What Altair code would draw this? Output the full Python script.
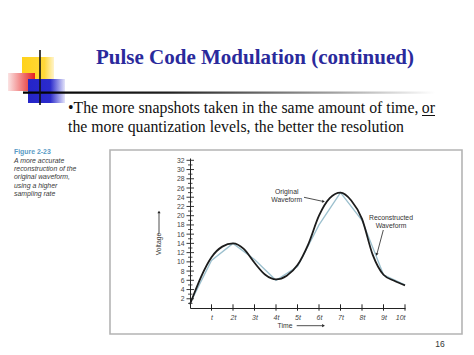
import altair as alt
import pandas as pd

# ---------------- data ----------------
sample_t = [0, 1, 2, 3, 4, 5, 6, 7, 8, 9, 10]
recon_v = [1, 10.3, 14, 10.5, 6, 9, 18, 25, 19, 7.2, 5]

orig_t = [0, 0.25, 0.5, 1, 1.5, 2, 2.5, 3, 3.5, 4, 4.5, 5, 5.5, 6, 6.5, 7, 7.5, 8, 8.5, 9, 9.5, 10]
orig_v = [0.8, 3.8, 6.6, 11, 13.3, 14, 12.8, 9.8, 7.2, 6.2, 7, 9.3, 13.8, 20, 23.8, 25, 23.3, 19.3, 11.5, 7.2, 5.9, 4.9]

y_labels = list(range(2, 33, 2))
y_major = list(range(2, 33, 2))
y_minor = list(range(1, 32, 2))
x_ticks = [1, 2, 3, 4, 5, 6, 7, 8, 9, 10]

title_text = "Pulse Code Modulation (continued)"
bullet_1 = "\u2022The more snapshots taken in the same amount of time,"
bullet_1b = "or"
bullet_2 = "the more quantization levels, the better the resolution"
caption_head = "Figure 2-23"
caption_lines = ["A more accurate", "reconstruction of the", "original waveform,", "using a higher", "sampling rate"]
page_no = "16"

XDOM = [0, 10]
YDOM = [0, 32.5]
xs = alt.Scale(domain=XDOM, nice=False, zero=False)
ys = alt.Scale(domain=YDOM, nice=False, zero=False)

lbl_expr = "datum.value == 1 ? 't' : datum.value + 't'"
x_axis = alt.Axis(values=x_ticks, labelExpr=lbl_expr, ticks=False, tickSize=0,
                  grid=False, title=None, domainColor="#222", domainWidth=1,
                  labelFont="Liberation Sans", labelFontSize=7, labelFontStyle="italic",
                  labelColor="#444", labelPadding=5, zindex=2)
y_axis = alt.Axis(values=y_labels, ticks=False, tickSize=0, grid=False, title=None,
                  domainColor="#222", domainWidth=1,
                  labelFont="Liberation Sans", labelFontSize=6.8, labelColor="#444",
                  labelPadding=6, zindex=2)

one = pd.DataFrame({"k": [0]})

def txt(text, x, y, size, font="Liberation Sans", color="#333", align="center",
        baseline="middle", style="normal", weight="normal", angle=0):
    kw = dict(text=text, font=font, fontSize=size, color=color, align=align,
              baseline=baseline, fontStyle=style, fontWeight=weight)
    if angle:
        kw["angle"] = angle
    return alt.Chart(one).mark_text(**kw).encode(x=alt.value(x), y=alt.value(y))

def rect(x, x2, y, y2, **mk):
    return alt.Chart(one).mark_rect(**mk).encode(
        x=alt.value(x), x2=alt.value(x2), y=alt.value(y), y2=alt.value(y2))

def rule(x, x2, y, y2, color="#222", w=1.0):
    return alt.Chart(one).mark_rule(color=color, strokeWidth=w).encode(
        x=alt.value(x), x2=alt.value(x2), y=alt.value(y), y2=alt.value(y2))

def head(x, y, shape, angle, size=14, color="#222"):
    return alt.Chart(one).mark_point(shape=shape, angle=angle, size=size, filled=True,
                                     color=color, opacity=1).encode(
        x=alt.value(x), y=alt.value(y))

def grad(stops, x1=0, x2=1, y1=0, y2=0):
    return alt.LinearGradient(gradient="linear",
                              stops=[alt.GradientStop(color=c, offset=o) for o, c in stops],
                              x1=x1, x2=x2, y1=y1, y2=y2)

# ---------------- slide decoration ----------------
frame = rect(-80, 272, -8, 176, fillOpacity=0, stroke="#b4b4b4", strokeWidth=1.6)
yellow = rect(-168, -136, -101, -70, color=grad([(0, "#FFD21A"), (0.7, "#FFD83A"), (1, "#FFF4CC")]))
red = rect(-182, -155, -85, -67, color=grad([(0, "#FBE4E4"), (0.45, "#F28A8A"), (1, "#E41E1E")]))
blue = rect(-162, -125, -79, -55, color=grad([(0, "#2424C8"), (0.6, "#2B2BCC"), (1, "#E4E4FA")]))
vline = rule(-150, -150, -108, -53, color="#111", w=1.6)
hline = rect(-167, 245, -66.6, -64.2, color=grad([(0, "#000000"), (0.35, "#202020"), (0.75, "#a0a0a0"), (1, "#ffffff")]))

title = txt(title_text, 65, -94, 21, font="Liberation Serif", color="#2A2A9C",
            baseline="alphabetic", weight="bold")
b1 = txt(bullet_1, -122, -45.3, 15.8, font="Liberation Serif", color="#111",
         align="left", baseline="alphabetic")
b1b = txt(bullet_1b, 245, -45.3, 15.8, font="Liberation Serif", color="#111",
          align="right", baseline="alphabetic")
ul = rule(232, 245, -42.5, -42.5, color="#111", w=1)
b2 = txt(bullet_2, -122, -26.3, 15.8, font="Liberation Serif", color="#111",
         align="left", baseline="alphabetic")

cap = [txt(caption_head, -176, -5.7, 6.9, color="#5A9BC6", align="left", weight="bold")]
for i, line in enumerate(caption_lines):
    cap.append(txt(line, -176, 2.7 + 8.3 * i, 6.9, color="#3a3a3a", align="left", style="italic"))

pg = txt(page_no, 250, 188.5, 8.5, color="#333", baseline="alphabetic")

# ---------------- chart annotations ----------------
orig_lbl = [txt("Original", 96.7, 34.3, 6.8), txt("Waveform", 96.7, 42, 6.8)]
orig_arrow = [rule(114, 132, 39.3, 43.2, w=0.8), head(133.5, 43.5, "triangle-right", 12, size=10)]
rec_lbl = [txt("Reconstructed", 201, 60.3, 6.8), txt("Waveform", 201, 67.7, 6.8)]
rec_arrow = [rule(193.3, 187.2, 72, 95, w=0.8), head(186.7, 96.5, "triangle-down", 15, size=10)]
volt = [txt("Voltage", -31, 86, 6.8, angle=270), rule(-31, -31, 55, 76, w=0.8),
        head(-31, 54, "triangle-up", 0, size=10)]
time = [txt("Time", 95, 167.7, 6.8), rule(106.7, 132, 167.7, 167.7, w=0.8),
        head(133.5, 167.7, "triangle-right", 0, size=10)]

# ---------------- waveform plot ----------------
recon_df = pd.DataFrame({"t": sample_t, "v": recon_v})
orig_df = pd.DataFrame({"t": orig_t, "v": orig_v})

recon = alt.Chart(recon_df).mark_line(color="#9cc0ce", strokeWidth=1.3).encode(
    x=alt.X("t:Q", scale=xs, axis=x_axis), y=alt.Y("v:Q", scale=ys, axis=y_axis))
orig = alt.Chart(orig_df).mark_line(color="#1c1c1c", strokeWidth=1.8, interpolate="monotone").encode(
    x=alt.X("t:Q", scale=xs, axis=x_axis), y=alt.Y("v:Q", scale=ys, axis=y_axis))

ymaj = alt.Chart(pd.DataFrame({"v": y_major})).mark_rule(color="#222", strokeWidth=0.9).encode(
    y=alt.Y("v:Q", scale=ys, axis=y_axis), x=alt.value(-3.5), x2=alt.value(4))
ymin = alt.Chart(pd.DataFrame({"v": y_minor})).mark_rule(color="#222", strokeWidth=0.8).encode(
    y=alt.Y("v:Q", scale=ys, axis=y_axis), x=alt.value(-2), x2=alt.value(2.5))
xt = alt.Chart(pd.DataFrame({"t": x_ticks})).mark_rule(color="#222", strokeWidth=1).encode(
    x=alt.X("t:Q", scale=xs, axis=x_axis), y=alt.value(146.3), y2=alt.value(152.7))

layers = [recon, orig, ymaj, ymin, xt, frame, yellow, red, blue, hline, vline, title, b1, b1b, ul, b2] + cap + [pg] \
    + orig_lbl + orig_arrow + rec_lbl + rec_arrow + volt + time

chart = alt.layer(*layers).properties(
    width=215, height=150,
    padding={"left": 182, "top": 150, "right": 61, "bottom": 39},
    autosize=alt.AutoSizeParams(type="none"),
    background="white",
).configure_view(stroke=None)

chart.save("out.html", embed_options={"renderer": "svg", "actions": False})
